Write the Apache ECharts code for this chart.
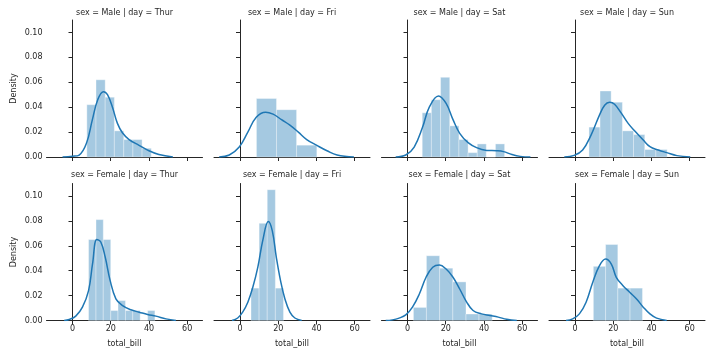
<!DOCTYPE html>
<html>
<head>
<meta charset="utf-8">
<script src="https://cdn.jsdelivr.net/npm/echarts@6/dist/echarts.min.js"></script>
<style>
  html, body { margin: 0; padding: 0; background: #fff; }
  #chart { width: 716px; height: 354px; }
</style>
</head>
<body>
<div id="chart"></div>
<script>
// facet titles, row by row
const panelTitles = [
  'sex = Male | day = Thur', 'sex = Male | day = Fri', 'sex = Male | day = Sat', 'sex = Male | day = Sun',
  'sex = Female | day = Thur', 'sex = Female | day = Fri', 'sex = Female | day = Sat', 'sex = Female | day = Sun'
];
const xTicks = [0, 20, 40, 60];
const yTicks = [0, 0.02, 0.04, 0.06, 0.08, 0.10];

// histogram bin edges + densities
const maleThurEdges = [7.5, 12.3, 17.1, 21.9, 26.8, 31.6, 36.4, 41.2];
const maleThurHeights = [0.042, 0.062, 0.048, 0.021, 0.014, 0.014, 0.007];
const maleFriEdges = [8.6, 19.1, 29.6, 40.2];
const maleFriHeights = [0.047, 0.038, 0.0095];
const maleSatEdges = [7.7, 12.5, 17.3, 22.1, 26.9, 31.7, 36.5, 41.2, 46.0, 50.8];
const maleSatHeights = [0.0355, 0.046, 0.064, 0.025, 0.014, 0.0035, 0.0105, 0, 0.0105];
const maleSunEdges = [7.3, 13.1, 18.9, 24.8, 30.6, 36.5, 42.3, 48.2];
const maleSunHeights = [0.024, 0.053, 0.044, 0.021, 0.018, 0.006, 0.006];
const femaleThurEdges = [8.4, 12.3, 16.1, 20.0, 23.8, 27.7, 31.5, 35.4, 39.3, 43.1];
const femaleThurHeights = [0.065, 0.081, 0.065, 0.008, 0.016, 0.008, 0.008, 0, 0.008];
const femaleFriEdges = [5.75, 10.0, 14.25, 18.5, 22.75];
const femaleFriHeights = [0.026, 0.078, 0.105, 0.026];
const femaleSatEdges = [3.1, 9.9, 16.8, 23.7, 30.6, 37.4, 44.3];
const femaleSatHeights = [0.0105, 0.052, 0.042, 0.031, 0.0052, 0.0052];
const femaleSunEdges = [9.6, 16.0, 22.4, 28.8, 35.3];
const femaleSunHeights = [0.0435, 0.061, 0.026, 0.026];

// kde curves [x, density]
const maleThurKde = [[-5.2, 0], [0, 0.0006], [3.5, 0.0016], [7.3, 0.011], [10.4, 0.030], [13.2, 0.046], [16.2, 0.0524],
  [18.3, 0.050], [20.9, 0.040], [23.5, 0.027], [26.1, 0.0195], [29.6, 0.014], [34.8, 0.0094], [40, 0.005], [45.2, 0.002], [52.5, 0]];
const maleFriKde = [[-10.9, 0], [-5.6, 0.0016], [-0.4, 0.008], [4.1, 0.020], [8.5, 0.032], [13.4, 0.036], [17.3, 0.0344],
  [21.7, 0.030], [26.1, 0.0256], [30.5, 0.020], [34.9, 0.014], [40.2, 0.0093], [45.5, 0.005], [50.8, 0.0016], [59.6, 0]];
const maleSatKde = [[-6.2, 0], [-0.9, 0.0016], [3.5, 0.008], [7.9, 0.024], [11.4, 0.040], [16.2, 0.049], [20.2, 0.043],
  [23.8, 0.030], [27.3, 0.019], [31.7, 0.0115], [36.1, 0.0075], [41.4, 0.0053], [46.7, 0.005], [50.2, 0.0043],
  [54.6, 0.002], [59.0, 0.0005], [64.3, 0]];
const maleSunKde = [[-5.6, 0], [-0.4, 0.0013], [4.0, 0.0056], [8.4, 0.0176], [12.8, 0.0336], [15.5, 0.0416], [18.1, 0.044],
  [20.7, 0.0424], [24.3, 0.035], [27.8, 0.027], [31.3, 0.0208], [35.7, 0.0136], [39.2, 0.0083], [43.6, 0.0056],
  [48, 0.0035], [53.3, 0.0011], [60.3, 0]];
const femaleThurKde = [[-4.4, 0], [-1.7, 0.0008], [1.7, 0.0035], [5.2, 0.0107], [8.4, 0.024], [10.5, 0.0456], [12.7, 0.065],
  [14.8, 0.063], [17.1, 0.051], [19.7, 0.032], [22.7, 0.0174], [26.2, 0.012], [30.5, 0.0086], [34.9, 0.0067],
  [39.3, 0.0048], [43.6, 0.0035], [48.9, 0.0013], [54.1, 0]];
const femaleFriKde = [[-4.2, 0], [-1.2, 0.002], [1.4, 0.0067], [4.1, 0.0147], [6.7, 0.0267], [9.3, 0.0427], [12.0, 0.065],
  [14.8, 0.0795], [16.9, 0.072], [19.0, 0.0507], [21.2, 0.032], [23.5, 0.0173], [26.1, 0.0067], [28.7, 0.002], [32.3, 0]];
const femaleSatKde = [[-11.4, 0], [-7.9, 0.0005], [-4.4, 0.0019], [-0.9, 0.0045], [2.6, 0.0107], [6.2, 0.0213], [9.7, 0.0347],
  [13.2, 0.0427], [16.7, 0.0445], [20.2, 0.0413], [23.8, 0.0347], [27.3, 0.0253], [30.8, 0.0152], [34.3, 0.008],
  [38.7, 0.0053], [43.1, 0.004], [47.5, 0.0027], [51.9, 0.001], [57.2, 0]];
const femaleSunKde = [[-4.7, 0], [-1.2, 0.0013], [2.3, 0.0053], [5.8, 0.0147], [9.3, 0.0307], [12.8, 0.044], [16.0, 0.0493],
  [19.0, 0.0453], [21.6, 0.0347], [25.1, 0.028], [28.6, 0.0227], [32.2, 0.0173], [35.7, 0.0107], [39.2, 0.0053],
  [42.7, 0.0019], [48, 0]];

const panels = [
  [maleThurEdges, maleThurHeights, maleThurKde],
  [maleFriEdges, maleFriHeights, maleFriKde],
  [maleSatEdges, maleSatHeights, maleSatKde],
  [maleSunEdges, maleSunHeights, maleSunKde],
  [femaleThurEdges, femaleThurHeights, femaleThurKde],
  [femaleFriEdges, femaleFriHeights, femaleFriKde],
  [femaleSatEdges, femaleSatHeights, femaleSatKde],
  [femaleSunEdges, femaleSunHeights, femaleSunKde]
];

const lefts = [46.5, 214, 381.5, 549];
const tops = [20, 183.5];
const W = 156, H = 137;
const ink = '#262626';
const font = 'DejaVu Sans';

const grids = [], xAxes = [], yAxes = [], titles = [], series = [];

panels.forEach(([edges, heights, kde], i) => {
  const col = i % 4, row = Math.floor(i / 4);
  grids.push({ left: lefts[col], top: tops[row], width: W, height: H });
  titles.push({
    text: panelTitles[i], left: lefts[col] + W / 2, top: row === 0 ? 9 : 171, textAlign: 'center', padding: 0,
    textStyle: { fontSize: 8, fontWeight: 'normal', color: ink, fontFamily: font }
  });
  xAxes.push({
    type: 'value', gridIndex: i, min: -13.6, max: 68,
    name: row === 1 ? 'total_bill' : '', nameLocation: 'middle', nameGap: 19,
    nameTextStyle: { fontSize: 8, color: ink, fontFamily: font },
    axisLine: { lineStyle: { color: ink, width: 1 } },
    axisTick: { show: true, length: 4, customValues: xTicks, lineStyle: { color: ink } },
    axisLabel: { show: row === 1, customValues: xTicks, fontSize: 8, color: ink, fontFamily: font, margin: 4 },
    splitLine: { show: false }
  });
  yAxes.push({
    type: 'value', gridIndex: i, min: 0, max: 0.11,
    name: col === 0 ? 'Density' : '', nameLocation: 'middle', nameGap: 29,
    nameTextStyle: { fontSize: 8, color: ink, fontFamily: font },
    axisLine: { show: true, lineStyle: { color: ink, width: 1 } },
    axisTick: { show: true, length: 4, customValues: yTicks, lineStyle: { color: ink } },
    axisLabel: { show: col === 0, customValues: yTicks, fontSize: 8, color: ink, fontFamily: font, margin: 4,
      formatter: v => v.toFixed(2) },
    splitLine: { show: false }
  });
  series.push({
    type: 'custom', xAxisIndex: i, yAxisIndex: i,
    encode: { x: [0, 1], y: 2 },
    data: heights.map((h, k) => [edges[k], edges[k + 1], h]),
    renderItem: (params, api) => {
      const p0 = api.coord([api.value(0), api.value(2)]);
      const p1 = api.coord([api.value(1), 0]);
      return {
        type: 'rect',
        shape: { x: p0[0], y: p0[1], width: p1[0] - p0[0], height: p1[1] - p0[1] },
        style: { fill: 'rgba(31,119,180,0.4)', stroke: 'rgba(255,255,255,0.5)', lineWidth: 0.7 }
      };
    }
  });
  series.push({
    type: 'line', xAxisIndex: i, yAxisIndex: i, data: kde,
    showSymbol: false, smooth: 0.4, z: 3,
    lineStyle: { color: '#1f77b4', width: 1.5 }
  });
});

const chart = echarts.init(document.getElementById('chart'));
chart.setOption({
  animation: false,
  backgroundColor: '#fff',
  title: titles,
  grid: grids,
  xAxis: xAxes,
  yAxis: yAxes,
  series: series
});
</script>
</body>
</html>
